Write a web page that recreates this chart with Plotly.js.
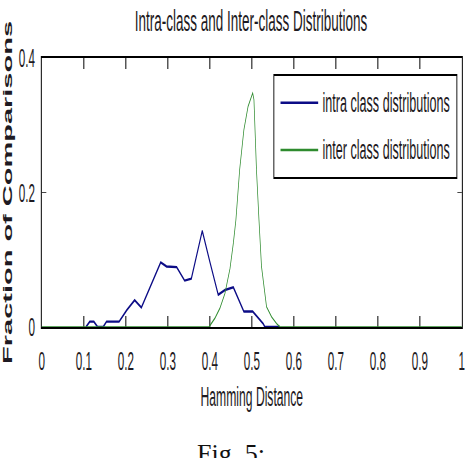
<!DOCTYPE html>
<html>
<head>
<meta charset="utf-8">
<script src="https://cdn.plot.ly/plotly-3.0.1.min.js"></script>
<style>
html,body{margin:0;padding:0;width:474px;height:458px;overflow:hidden;background:#fff}
#wrap{position:absolute;left:0;top:0;width:474px;height:458px;overflow:hidden}
#plot{position:absolute;left:0;top:0;width:1054px;height:458px;transform:scaleX(0.44972);transform-origin:0 0}
#cap{position:absolute;left:0;top:441px;width:462px;text-align:center;font-family:"Liberation Serif","Times New Roman",serif;font-size:26px;line-height:26px;color:#111}
</style>
</head>
<body>
<div id="wrap">
  <div id="plot"></div>
  <div id="cap">Fig. 5:</div>
</div>
<script>
// Hamming distance (x) and fraction of comparisons (y)
const intraX = [0.105, 0.114, 0.124, 0.133, 0.146, 0.154, 0.184, 0.202, 0.221, 0.237, 0.283, 0.297, 0.321, 0.340, 0.356, 0.382, 0.400, 0.420, 0.436, 0.456, 0.481, 0.502, 0.527, 0.531, 0.567];
const intraY = [0, 0.008, 0.008, 0, 0, 0.008, 0.008, 0.025, 0.040, 0.029, 0.096, 0.090, 0.089, 0.069, 0.072, 0.143, 0.097, 0.048, 0.055, 0.059, 0.023, 0.023, 0.005, 0, 0];
const interX = [0, 0.398, 0.412, 0.424, 0.436, 0.448, 0.456, 0.462, 0.471, 0.481, 0.491, 0.502, 0.505, 0.511, 0.517, 0.523, 0.535, 0.547, 0.559, 0.567, 1];
const interY = [0, 0, 0.013, 0.028, 0.050, 0.087, 0.125, 0.159, 0.234, 0.293, 0.328, 0.348, 0.338, 0.234, 0.159, 0.090, 0.030, 0.015, 0.005, 0, 0];
const seriesNames = ['intra class distributions', 'inter class distributions'];
const seriesColors = ['#0c0c86', '#2e8b2e'];
const chartTitle = 'Intra-class and Inter-class Distributions';
const xTitle = 'Hamming Distance';
const yTitle = 'Fraction of Comparisons';

const txt = '#1e1a22';
const fam = 'Liberation Sans, Arial, sans-serif';

const traces = [
  {x: intraX, y: intraY, type: 'scatter', mode: 'lines', name: seriesNames[0],
   line: {color: seriesColors[0], width: 2.4}},
  {x: interX, y: interY, type: 'scatter', mode: 'lines', name: seriesNames[1],
   line: {color: seriesColors[1], width: 1.6}}
];

// legend frame and entries (paper coordinates)
const legBox = {x0: 0.5524, x1: 0.9881, y0: 0.554, y1: 0.9368};
const legRowsY = [0.8338, 0.658];
const legLineX = [0.5683, 0.6579];
const legTextX = 0.6655;

const shapes = [
  {type: 'rect', xref: 'paper', yref: 'paper', x0: legBox.x0, x1: legBox.x1, y0: legBox.y0, y1: legBox.y1,
   line: {color: '#000', width: 2}, fillcolor: '#fff', layer: 'above'}
];
const annotations = [];
seriesNames.forEach(function (nm, i) {
  shapes.push({type: 'line', xref: 'paper', yref: 'paper', x0: legLineX[0], x1: legLineX[1],
               y0: legRowsY[i], y1: legRowsY[i], line: {color: seriesColors[i], width: 2.4}, layer: 'above'});
  annotations.push({xref: 'paper', yref: 'paper', x: legTextX, y: legRowsY[i], xanchor: 'left', yanchor: 'middle',
                    text: nm, showarrow: false, font: {size: 28, family: fam, color: txt}});
});

const layout = {
  width: 1054, height: 458,
  margin: {l: 93.4, r: 26.7, t: 58, b: 131, pad: 0},
  paper_bgcolor: '#fff', plot_bgcolor: '#fff',
  font: {family: fam, color: txt, size: 25},
  title: {text: chartTitle, font: {size: 30, family: fam, color: txt},
          x: 0.5295, xref: 'container', xanchor: 'center',
          y: 0.955, yref: 'container', yanchor: 'middle'},
  showlegend: false,
  shapes: shapes,
  annotations: annotations,
  xaxis: {range: [0, 1], dtick: 0.1, tick0: 0, showgrid: false, zeroline: false,
          showline: true, linecolor: '#000', linewidth: 2, mirror: 'ticks',
          ticks: 'inside', ticklen: 11, tickwidth: 2.2, tickcolor: '#000',
          tickfont: {size: 26, family: fam, color: txt},
          ticklabelstandoff: 10, layer: 'below traces',
          title: {text: xTitle, font: {size: 27, family: fam, color: txt}, standoff: 12}},
  yaxis: {range: [0, 0.4], dtick: 0.2, tick0: 0, showgrid: false, zeroline: false,
          showline: true, linecolor: '#000', linewidth: 2.2, mirror: 'ticks',
          ticks: 'inside', ticklen: 10, tickwidth: 1, tickcolor: '#000',
          tickfont: {size: 26, family: fam, color: txt},
          ticklabelstandoff: 8, layer: 'below traces',
          title: {text: yTitle, font: {size: 29, family: fam, color: txt, weight: 'bold'}, standoff: 10}}
};

Plotly.newPlot('plot', traces, layout, {staticPlot: true, displayModeBar: false});
</script>
</body>
</html>
